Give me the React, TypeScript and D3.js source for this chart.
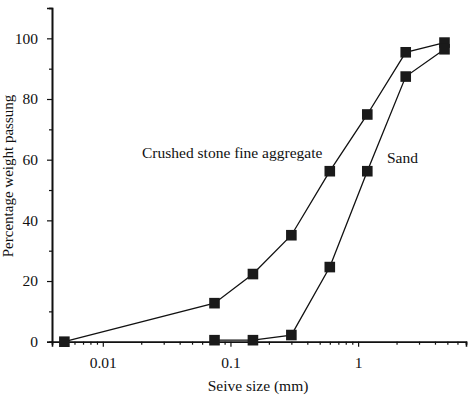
import React, { useEffect, useRef } from "react";
import * as d3 from "d3";

// sieve sizes (mm) and percentage passing
const crushedSize = [0.005, 0.075, 0.15, 0.3, 0.6, 1.18, 2.36, 4.75];
const crushedPass = [0, 12.7, 22.3, 35.1, 56.2, 74.9, 95.4, 98.6];
const sandSize = [0.075, 0.15, 0.3, 0.6, 1.18, 2.36, 4.75];
const sandPass = [0.5, 0.5, 2.2, 24.6, 56.2, 87.4, 96.4];

const xMajor = [0.01, 0.1, 1];
const xMinor = [
  0.004, 0.005, 0.006, 0.007, 0.008, 0.009,
  0.02, 0.03, 0.04, 0.05, 0.06, 0.07, 0.08, 0.09,
  0.2, 0.3, 0.4, 0.5, 0.6, 0.7, 0.8, 0.9,
  2, 3, 4, 5, 6, 7,
];
const yMajor = [0, 20, 40, 60, 80, 100];
const yMinor = [10, 30, 50, 70, 90, 110];

const W = 474;
const H = 396;
const FONT = "'Liberation Serif', 'DejaVu Serif', serif";
const FS = 15.5;

export default function App() {
  const svgRef = useRef<SVGSVGElement | null>(null);

  useEffect(() => {
    const svg = d3.select(svgRef.current);
    svg.selectAll("*").remove();

    const x = d3.scaleLog().domain([0.004, 7]).range([52, 466]);
    const y = d3.scaleLinear().domain([0, 110]).range([341.7, 8]);

    // x axis
    const xg = svg.append("g").attr("transform", `translate(0,${y(0)})`);
    xg.call(
      d3.axisBottom(x).tickValues(xMajor).tickSize(5).tickFormat((d) => String(d))
    );
    xg.append("g").call(
      d3.axisBottom(x).tickValues(xMinor).tickSize(3).tickFormat(() => "")
    );

    // y axis
    const yg = svg.append("g").attr("transform", `translate(${x(0.004)},0)`);
    yg.call(d3.axisLeft(y).tickValues(yMajor).tickSize(5));
    yg.append("g").call(
      d3.axisLeft(y).tickValues(yMinor).tickSize(3).tickFormat(() => "")
    );

    svg.selectAll(".domain").attr("stroke", "#111").attr("stroke-width", 1.6);
    svg.selectAll(".tick line").attr("stroke", "#111").attr("stroke-width", 1.2);
    svg
      .selectAll(".tick text")
      .attr("font-family", FONT)
      .attr("font-size", FS)
      .attr("fill", "#111");
    xg.selectAll(".tick text").attr("dy", "1.2em");
    yg.selectAll(".tick text").attr("x", -14);

    const series = [
      { xs: crushedSize, ys: crushedPass },
      { xs: sandSize, ys: sandPass },
    ];

    const line = d3
      .line<[number, number]>()
      .x((d) => x(d[0]))
      .y((d) => y(d[1]));

    series.forEach((s) => {
      const pts = s.xs.map((v, i) => [v, s.ys[i]] as [number, number]);
      svg
        .append("path")
        .datum(pts)
        .attr("fill", "none")
        .attr("stroke", "#111")
        .attr("stroke-width", 1.3)
        .attr("d", line);
      svg
        .append("g")
        .selectAll("rect")
        .data(pts)
        .join("rect")
        .attr("x", (d) => x(d[0]) - 5.3)
        .attr("y", (d) => y(d[1]) - 5.3)
        .attr("width", 10.6)
        .attr("height", 10.6)
        .attr("fill", "#1a1a1a");
    });

    // annotations
    svg
      .append("text")
      .attr("x", 142)
      .attr("y", 158)
      .attr("font-family", FONT)
      .attr("font-size", FS)
      .attr("fill", "#111")
      .text("Crushed stone fine aggregate");
    svg
      .append("text")
      .attr("x", 387)
      .attr("y", 163)
      .attr("font-family", FONT)
      .attr("font-size", FS)
      .attr("fill", "#111")
      .text("Sand");

    // axis titles
    svg
      .append("text")
      .attr("x", 258)
      .attr("y", 391)
      .attr("text-anchor", "middle")
      .attr("font-family", FONT)
      .attr("font-size", FS)
      .attr("fill", "#111")
      .text("Seive size (mm)");
    svg
      .append("text")
      .attr("transform", "translate(13,176) rotate(-90)")
      .attr("text-anchor", "middle")
      .attr("font-family", FONT)
      .attr("font-size", 15)
      .attr("fill", "#111")
      .text("Percentage weight passung");
  }, []);

  return (
    <svg
      ref={svgRef}
      width={W}
      height={H}
      style={{ position: "absolute", left: 0, top: 0, background: "#fff" }}
    />
  );
}
